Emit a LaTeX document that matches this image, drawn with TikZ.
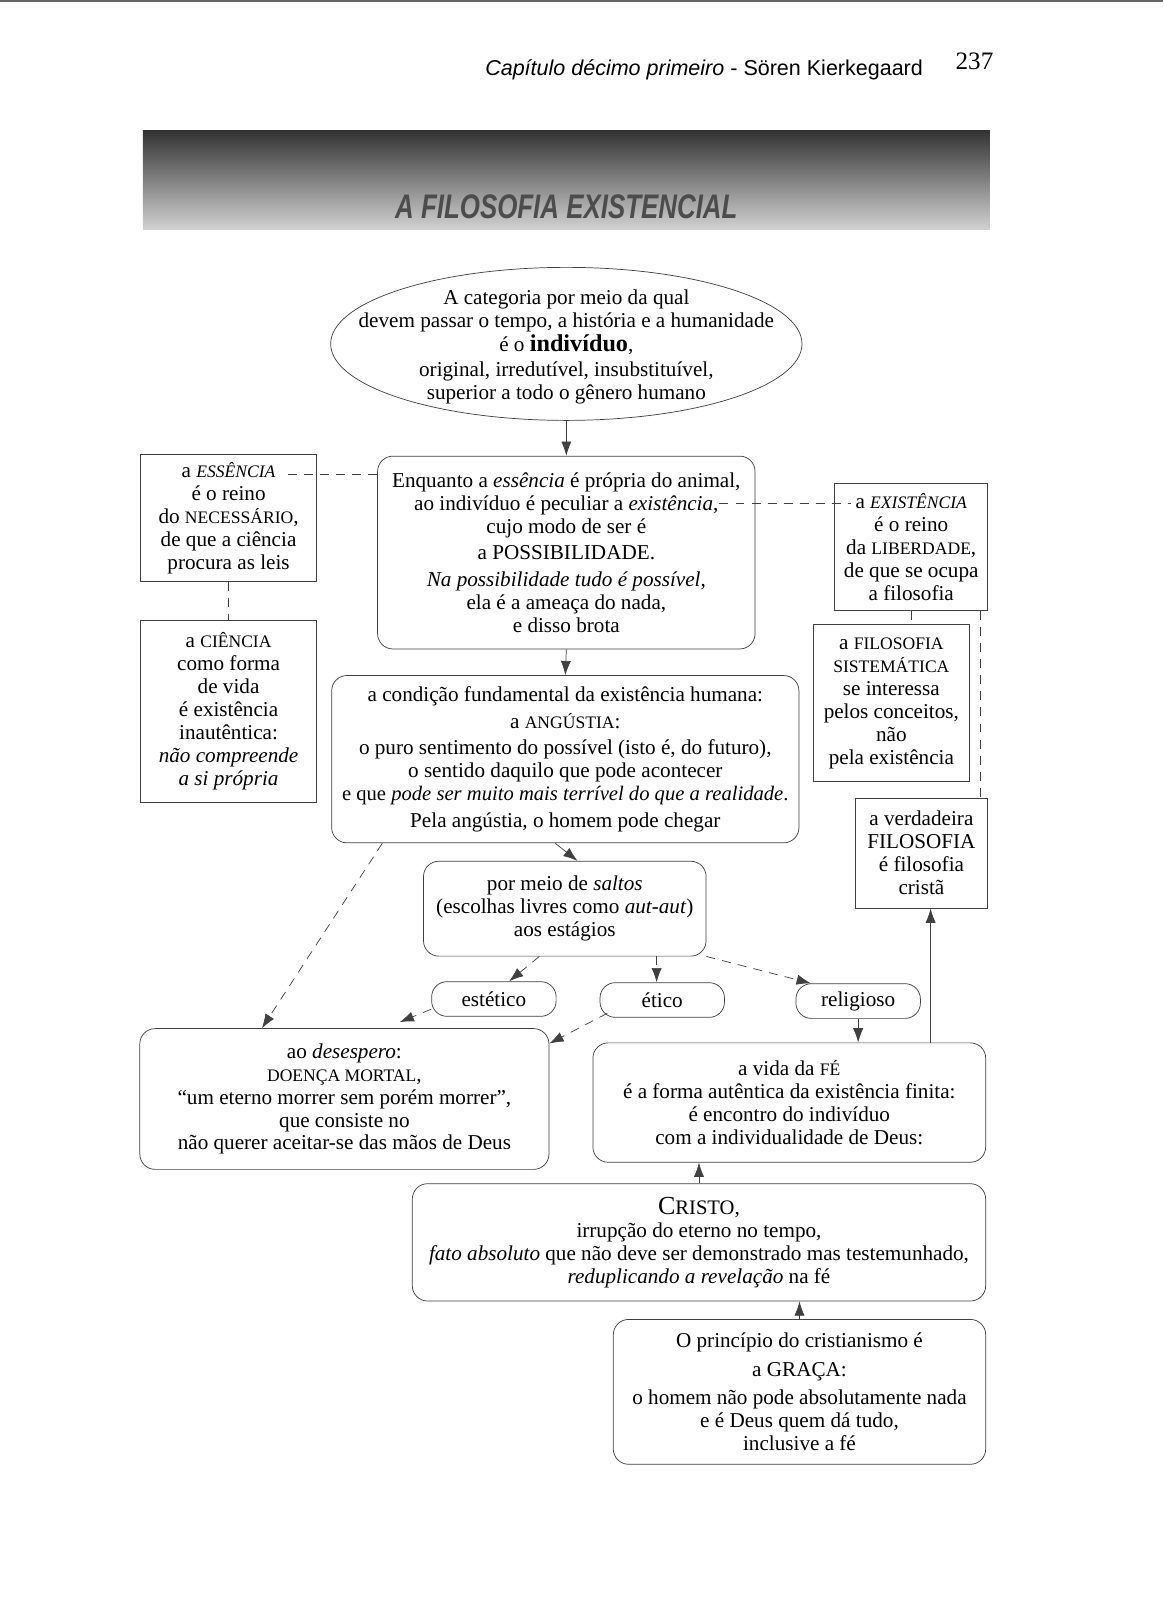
\documentclass[tikz,border=0pt]{standalone}
\usepackage{fontspec}
\usepackage{graphicx}
\setmainfont{Liberation Serif}
\newfontfamily\headfont{Liberation Sans}
\usetikzlibrary{arrows.meta,shapes.geometric}
% small capitals imitated by smaller upper case letters
\newcommand{\vers}[1]{{\fontsize{9.8}{10}\selectfont #1}}

\begin{document}
\begin{tikzpicture}[x=0.02cm,y=-0.02cm,
	txt/.style={align=center,font=\fontsize{11.8}{12.8}\selectfont,inner sep=0pt},
	rbox/.style={txt,draw=black!75,thin,rounded corners=0.3cm},
	sbox/.style={txt,draw=black!75,thin},
	stage/.style={rbox,minimum width=2.44cm,minimum height=0.68cm},
	arr/.style={-{Latex[length=2.8mm,width=2mm]},black!75,thin},
	darr/.style={arr,dash pattern=on 5pt off 4pt},
	link/.style={black!75,thin,dash pattern=on 5pt off 4pt}]
	\useasboundingbox (0,0) rectangle (1140,1568);
	\fill[white] (0,0) rectangle (1140,1568);
	\draw[black!60,thick] (0,1) -- (1140,1);
	% header
	\node[font=\headfont\fontsize{12}{14}\selectfont] (head) at (690,68) {\textit{Capítulo décimo primeiro} - Sören Kierkegaard};
	\node[font=\fontsize{14}{16}\selectfont] (page) at (955,60) {237};
	\shade[top color=black!80,bottom color=black!18] (140,128) rectangle (970,225);
	\node[font=\headfont\bfseries\itshape\fontsize{19}{20}\selectfont,text=black!70] (title) at (555,203) {\scalebox{0.76}[1]{A FILOSOFIA EXISTENCIAL}};

	% main column
	\node[ellipse,draw=black!75,thin,minimum width=9.24cm,minimum height=3.0cm,inner sep=0pt] (ind) at (555,337) {};
	\node[txt] (indtxt) at (555,340)
		{A categoria por meio da qual\\
		devem passar o tempo, a história e a humanidade\\[1pt]
		é o {\fontsize{13.5}{14}\selectfont\bfseries indivíduo},\\[1pt]
		original, irredutível, insubstituível,\\
		superior a todo o gênero humano};
	\node[rbox,minimum width=7.4cm,minimum height=3.78cm] (enq) at (555,541.5)
		{Enquanto a \textit{essência} é própria do animal,\\
		ao indivíduo é peculiar a \textit{existência},\\
		cujo modo de ser é\\[2pt]
		a POSSIBILIDADE.\\[2pt]
		\textit{Na possibilidade tudo é possível},\\
		ela é a ameaça do nada,\\
		e disso brota};
	\node[rbox,minimum width=9.16cm,minimum height=3.28cm] (con) at (554,744)
		{a condição fundamental da existência humana:\\[2pt]
		a \vers{ANGÚSTIA}:\\[2pt]
		o puro sentimento do possível (isto é, do futuro),\\
		o sentido daquilo que pode acontecer\\
		{\fontsize{11.5}{12.8}\selectfont e que \textit{pode ser muito mais terrível do que a realidade}.}\\[2pt]
		Pela angústia, o homem pode chegar};
	\node[rbox,minimum width=5.54cm,minimum height=1.86cm] (sal) at (553.5,890.5)
		{por meio de \textit{saltos}\\
		(escolhas livres como \textit{aut-aut})\\
		aos estágios};
	\node[stage] (est) at (484,979) {estético};
	\node[stage] (eti) at (649,980) {ético};
	\node[stage] (rel) at (841,981) {religioso};

	% left column
	\node[sbox,minimum width=3.44cm,minimum height=2.5cm] (ess) at (224,507.5)
		{a \textit{\vers{ESSÊNCIA}}\\
		é o reino\\
		do \vers{NECESSÁRIO},\\
		de que a ciência\\
		procura as leis};
	\node[sbox,minimum width=3.44cm,minimum height=3.56cm] (cie) at (224,697)
		{a \vers{CIÊNCIA}\\
		como forma\\
		de vida\\
		é existência\\
		inautêntica:\\
		\textit{não compreende}\\
		\textit{a si própria}};

	% right column
	\node[sbox,minimum width=3.0cm,minimum height=2.48cm] (exi) at (893,536)
		{a \textit{\vers{EXISTÊNCIA}}\\
		é o reino\\
		da \vers{LIBERDADE},\\
		de que se ocupa\\
		a filosofia};
	\node[sbox,minimum width=3.06cm,minimum height=3.08cm] (sis) at (873.5,689)
		{a \vers{FILOSOFIA}\\
		\vers{SISTEMÁTICA}\\
		se interessa\\
		pelos conceitos,\\
		não\\
		pela existência};
	\node[sbox,minimum width=2.6cm,minimum height=2.16cm] (ver) at (903,836)
		{a verdadeira\\
		FILOSOFIA\\
		é filosofia\\
		cristã};

	% lower part
	\node[rbox,minimum width=8.02cm,minimum height=2.76cm] (des) at (337.5,1077)
		{ao \textit{desespero}:\\
		\vers{DOENÇA MORTAL},\\
		“um eterno morrer sem porém morrer”,\\
		que consiste no\\
		não querer aceitar-se das mãos de Deus};
	\node[rbox,minimum width=7.7cm,minimum height=2.34cm] (fe) at (773.5,1080.5)
		{a vida da \vers{FÉ}\\
		é a forma autêntica da existência finita:\\
		é encontro do indivíduo\\
		com a individualidade de Deus:};
	\node[rbox,minimum width=11.24cm,minimum height=2.3cm] (cri) at (685,1217.5)
		{{\fontsize{14.5}{15}\selectfont C\fontsize{11.5}{12}\selectfont RISTO},\\
		irrupção do eterno no tempo,\\
		\textit{fato absoluto} que não deve ser demonstrado mas testemunhado,\\
		\textit{reduplicando a revelação} na fé};
	\node[rbox,minimum width=7.3cm,minimum height=2.84cm] (gra) at (783.5,1364)
		{O princípio do cristianismo é\\[3pt]
		a GRAÇA:\\[3pt]
		o homem não pode absolutamente nada\\
		e é Deus quem dá tudo,\\
		inclusive a fé};

	% connectors
	\draw[arr] (ind.south) -- (enq.north);
	\draw[arr] (enq.south) -- (con.north);
	\draw[arr] ([xshift=-0.2cm]con.south) -- ([xshift=0.25cm]sal.north);
	\draw[darr] ([xshift=1cm]con.south west) -- ([xshift=2.4cm]des.north west);
	\draw[darr] ([xshift=-0.5cm]sal.south) -- ([xshift=0.3cm]est.north);
	\draw[darr] ([xshift=1.8cm]sal.south) -- ([xshift=1.8cm]sal.south |- eti.north);
	\draw[darr] (sal.south east) -- ([xshift=0.3cm]rel.north west);
	\draw[darr] ([yshift=-0.2cm]est.west) -- ([xshift=5.1cm,yshift=0.12cm]des.north west);
	\draw[darr] ([xshift=0.15cm,yshift=-0.26cm]eti.west) -- ([yshift=-0.3cm]des.north east);
	\draw[darr] (rel.south) -- (rel.south |- fe.north);
	\draw[arr] ([xshift=0.18cm]ver.south |- fe.north) -- ([xshift=0.18cm]ver.south);
	\draw[arr] (cri.north) -- (cri.north |- fe.south);
	\draw[arr] (gra.north) -- (gra.north |- cri.south);
	\draw[link] (ess.south) -- (cie.north);
	\draw[link] (exi.south) -- (exi.south |- sis.north);
	\draw[link] ([xshift=-0.16cm]exi.south east) -- ([xshift=-0.16cm]exi.south east |- ver.north);
	\coordinate (essdash) at (282,465);
	\draw[link] (essdash) -- (essdash -| enq.west);
	\coordinate (exidash) at (705,493);
	\coordinate (exiend) at (834,493);
	\draw[link] (exidash) -- (exiend);
\end{tikzpicture}
\end{document}
